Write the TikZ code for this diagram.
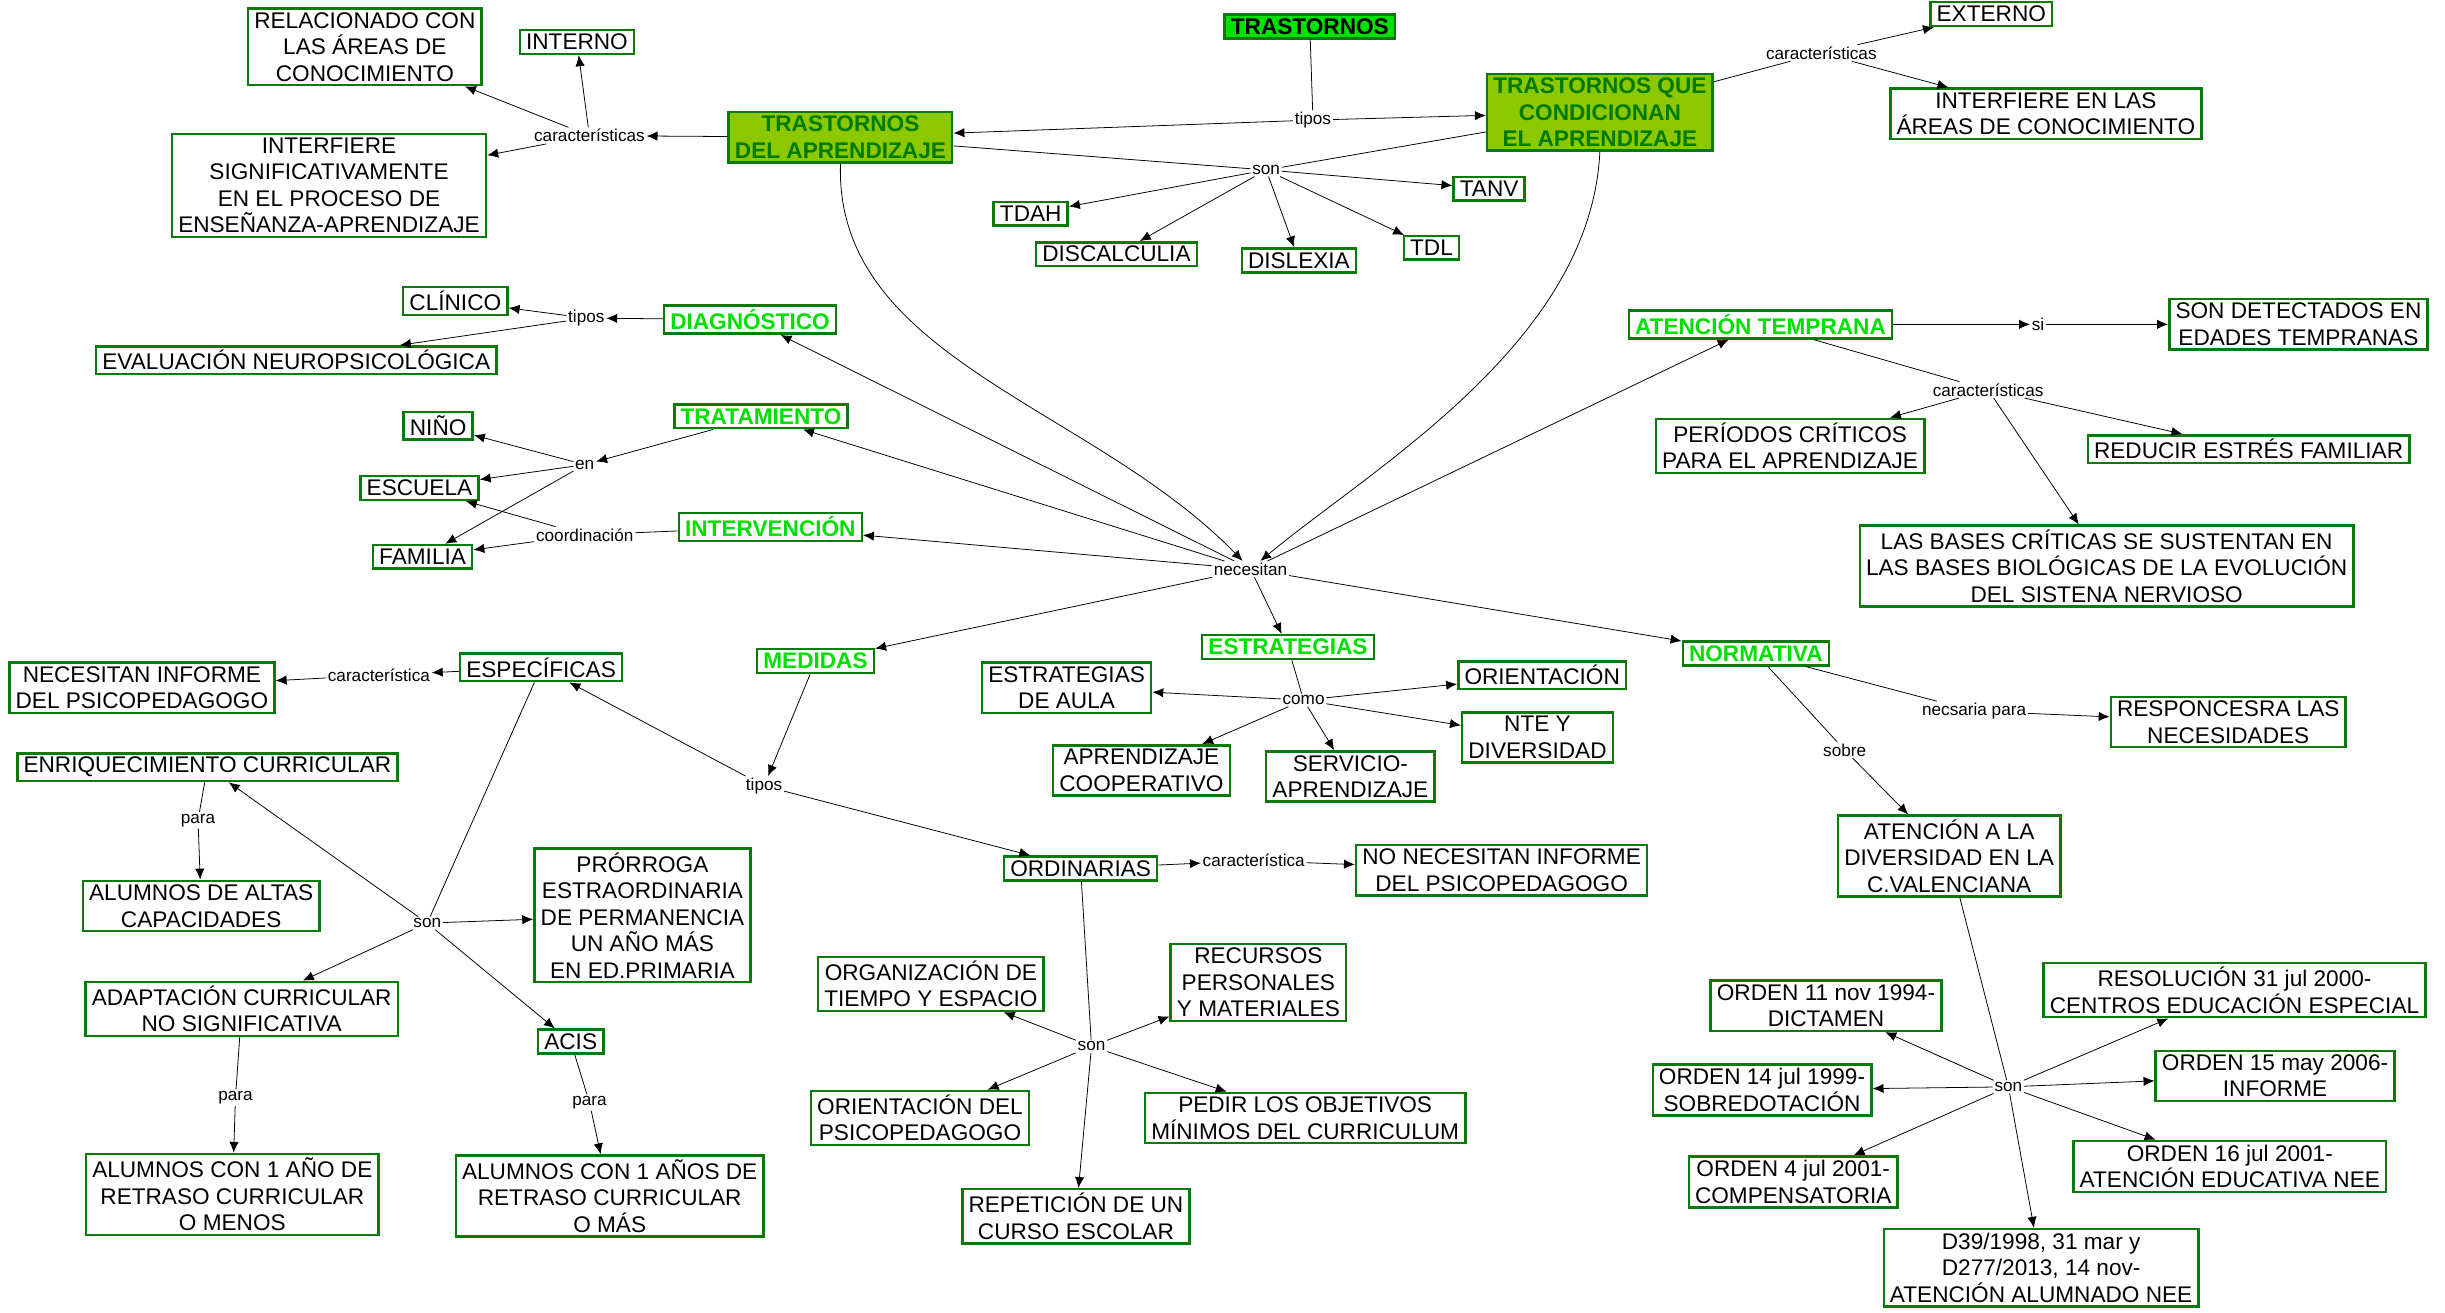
\documentclass[tikz,border=0pt]{standalone}
\usepackage{fontspec}
\setmainfont{Liberation Sans}
\usetikzlibrary{arrows.meta}
\definecolor{bd}{HTML}{0A7A0A}
\definecolor{lg}{HTML}{8CC800}
\definecolor{dg}{HTML}{007A00}
\definecolor{bg}{HTML}{00E000}
\begin{document}
\begin{tikzpicture}[x=1pt,y=-1pt,
 b/.style={draw=bd,line width=1.6pt,fill=white,align=center,font=\fontsize{14.5}{17}\selectfont,inner xsep=4pt,inner ysep=2.5pt},
 g/.style={b,font=\fontsize{14.5}{17}\selectfont\bfseries,text=bg},
 t/.style={b,fill=lg,text=dg,font=\fontsize{14.5}{17}\selectfont\bfseries},
 l/.style={font=\fontsize{11}{12}\selectfont,inner sep=1pt,fill=white},
 a/.style={-{Latex[length=7pt,width=6pt]},line width=0.5pt},
 n/.style={line width=0.5pt}]
\useasboundingbox (0,0) rectangle (1568,842);
% top
\node[b,fill=bg,font=\fontsize{14.5}{17}\selectfont\bfseries] (tr) at (840,17) {TRASTORNOS};
\node[t] (tda) at (539,88) {TRASTORNOS\\DEL APRENDIZAJE};
\node[t] (tqc) at (1026,72) {TRASTORNOS QUE\\CONDICIONAN\\EL APRENDIZAJE};
\node[b] (ext) at (1277,9) {EXTERNO};
\node[b] (iea) at (1312,73) {INTERFIERE EN LAS\\ÁREAS DE CONOCIMIENTO};
\node[l] (c1) at (1168,34) {características};
\node[l] (t1) at (842,77) {tipos};
\node[l] (s1) at (812,109) {son};
\node[b] (tdah) at (661,137) {TDAH};
\node[b] (disc) at (716,163) {DISCALCULIA};
\node[b] (disl) at (833,167) {DISLEXIA};
\node[b] (tdl) at (918,159) {TDL};
\node[b] (tanv) at (955,121) {TANV};
\node[b] (rel) at (234,30) {RELACIONADO CON\\LAS ÁREAS DE\\CONOCIMIENTO};
\node[b] (int) at (370,27) {INTERNO};
\node[l] (c2) at (378,87) {características};
\node[b] (isig) at (211,119) {INTERFIERE\\SIGNIFICATIVAMENTE\\EN EL PROCESO DE\\ENSEÑANZA-APRENDIZAJE};
% left middle
\node[g] (diag) at (481,205) {DIAGNÓSTICO};
\node[l] (t2) at (376,204) {tipos};
\node[b] (cli) at (292,193) {CLÍNICO};
\node[b] (eval) at (190,231) {EVALUACIÓN NEUROPSICOLÓGICA};
\node[g] (trat) at (488,267) {TRATAMIENTO};
\node[l] (en) at (375,298) {en};
\node[b] (nino) at (281,273) {NIÑO};
\node[b] (esc) at (269,313) {ESCUELA};
\node[b] (fam) at (271,357) {FAMILIA};
\node[l] (coor) at (375,343) {coordinación};
\node[g] (interv) at (494,338) {INTERVENCIÓN};
\node[l] (nec) at (802,365) {necesitan};
% right
\node[g] (at) at (1129,208) {ATENCIÓN TEMPRANA};
\node[l] (si) at (1307,208) {si};
\node[b] (sdet) at (1474,208) {SON DETECTADOS EN\\EDADES TEMPRANAS};
\node[l] (c3) at (1275,250) {características};
\node[b] (per) at (1148,286) {PERÍODOS CRÍTICOS\\PARA EL APRENDIZAJE};
\node[b] (red) at (1442,288) {REDUCIR ESTRÉS FAMILIAR};
\node[b] (bases) at (1351,363) {LAS BASES CRÍTICAS SE SUSTENTAN EN\\LAS BASES BIOLÓGICAS DE LA EVOLUCIÓN\\DEL SISTENA NERVIOSO};
% medidas
\node[g] (med) at (523,424) {MEDIDAS};
\node[g] (estr) at (826,415) {ESTRATEGIAS};
\node[g] (norm) at (1126,419) {NORMATIVA};
\node[b] (espe) at (347,428) {ESPECÍFICAS};
\node[l] (c4) at (243,433) {característica};
\node[b] (neci) at (91,441) {NECESITAN INFORME\\DEL PSICOPEDAGOGO};
\node[b] (enr) at (133,492) {ENRIQUECIMIENTO CURRICULAR};
\node[l] (p1) at (127,526) {para};
\node[b] (aac) at (129,581) {ALUMNOS DE ALTAS\\CAPACIDADES};
\node[l] (s2) at (274,592) {son};
\node[b] (pro) at (412,587) {PRÓRROGA\\ESTRAORDINARIA\\DE PERMANENCIA\\UN AÑO MÁS\\EN ED.PRIMARIA};
\node[b] (adap) at (155,647) {ADAPTACIÓN CURRICULAR\\NO SIGNIFICATIVA};
\node[b] (acis) at (366,668) {ACIS};
\node[l] (p2) at (151,704) {para};
\node[l] (p3) at (378,707) {para};
\node[b] (amen) at (149,766) {ALUMNOS CON 1 AÑO DE\\RETRASO CURRICULAR\\O MENOS};
\node[b] (amas) at (391,767) {ALUMNOS CON 1 AÑOS DE\\RETRASO CURRICULAR\\O MÁS};
\node[l] (t3) at (490,504) {tipos};
\node[b] (eaula) at (684,441) {ESTRATEGIAS\\DE AULA};
\node[l] (como) at (836,449) {como};
\node[b] (ori) at (989,433) {ORIENTACIÓN};
\node[b] (nte) at (986,473) {NTE Y\\DIVERSIDAD};
\node[b] (acoop) at (732,494) {APRENDIZAJE\\COOPERATIVO};
\node[b] (serv) at (866,498) {SERVICIO-\\APRENDIZAJE};
\node[b] (ord) at (693,557) {ORDINARIAS};
\node[l] (c5) at (804,552) {característica};
\node[b] (nonec) at (963,558) {NO NECESITAN INFORME\\DEL PSICOPEDAGOGO};
\node[b] (org) at (597,631) {ORGANIZACIÓN DE\\TIEMPO Y ESPACIO};
\node[b] (rec) at (807,630) {RECURSOS\\PERSONALES\\Y MATERIALES};
\node[l] (s3) at (700,671) {son};
\node[b] (orip) at (590,717) {ORIENTACIÓN DEL\\PSICOPEDAGOGO};
\node[b] (pedir) at (837,717) {PEDIR LOS OBJETIVOS\\MÍNIMOS DEL CURRICULUM};
\node[b] (rep) at (690,780) {REPETICIÓN DE UN\\CURSO ESCOLAR};
\node[l] (nps) at (1266,456) {necsaria para};
\node[b] (resp) at (1429,463) {RESPONCESRA LAS\\NECESIDADES};
\node[l] (sob) at (1183,481) {sobre};
\node[b] (adcv) at (1250,549) {ATENCIÓN A LA\\DIVERSIDAD EN LA\\C.VALENCIANA};
\node[l] (s4) at (1288,697) {son};
\node[b] (o1) at (1171,645) {ORDEN 11 nov 1994-\\DICTAMEN};
\node[b] (o2) at (1433,635) {RESOLUCIÓN 31 jul 2000-\\CENTROS EDUCACIÓN ESPECIAL};
\node[b] (o3) at (1130,699) {ORDEN 14 jul 1999-\\SOBREDOTACIÓN};
\node[b] (o4) at (1459,690) {ORDEN 15 may 2006-\\INFORME};
\node[b] (o5) at (1150,758) {ORDEN 4 jul 2001-\\COMPENSATORIA};
\node[b] (o6) at (1430,748) {ORDEN 16 jul 2001-\\ATENCIÓN EDUCATIVA NEE};
\node[b] (o7) at (1309,813) {D39/1998, 31 mar y\\D277/2013, 14 nov-\\ATENCIÓN ALUMNADO NEE};
% edges
\draw[n] (tr) -- (t1); \draw[a] (t1) -- (tqc); \draw[a] (t1) -- (tda);
\draw[n] (tqc) -- (c1); \draw[a] (c1) -- (ext); \draw[a] (c1) -- (iea);
\draw[n] (tda) -- (s1); \draw[n] (tqc) -- (s1);
\foreach \x in {tdah,disc,disl,tdl,tanv} \draw[a] (s1) -- (\x);
\draw[a] (tda) -- (c2);
\foreach \x in {rel,int,isig} \draw[a] (c2) -- (\x);
\draw[a] (tda.south) .. controls (535,230) and (700,260) .. (nec);
\draw[a] (tqc.south) .. controls (1020,220) and (880,300) .. (nec);
\foreach \x in {diag,trat,interv,at,med,estr,norm} \draw[a] (nec) -- (\x);
\draw[a] (diag) -- (t2); \draw[a] (t2) -- (cli); \draw[a] (t2) -- (eval);
\draw[a] (trat) -- (en); \foreach \x in {nino,esc,fam} \draw[a] (en) -- (\x);
\draw[n] (interv) -- (coor); \draw[a] (coor) -- (fam); \draw[a] (coor) -- (esc);
\draw[a] (at) -- (si); \draw[a] (si) -- (sdet);
\draw[n] (at) -- (c3); \foreach \x in {per,red,bases} \draw[a] (c3) -- (\x);
\draw[a] (med) -- (t3); \draw[a] (t3) -- (espe); \draw[a] (t3) -- (ord);
\draw[a] (espe) -- (c4); \draw[a] (c4) -- (neci);
\draw[n] (espe) -- (s2); \foreach \x in {enr,pro,adap,acis} \draw[a] (s2) -- (\x);
\draw[n] (enr) -- (p1); \draw[a] (p1) -- (aac);
\draw[n] (adap) -- (p2); \draw[a] (p2) -- (amen);
\draw[n] (acis) -- (p3); \draw[a] (p3) -- (amas);
\draw[n] (estr) -- (como); \foreach \x in {eaula,ori,nte,acoop,serv} \draw[a] (como) -- (\x);
\draw[a] (ord) -- (c5); \draw[a] (c5) -- (nonec);
\draw[n] (ord) -- (s3); \foreach \x in {org,rec,orip,pedir,rep} \draw[a] (s3) -- (\x);
\draw[n] (norm) -- (nps); \draw[a] (nps) -- (resp);
\draw[n] (norm) -- (sob); \draw[a] (sob) -- (adcv);
\draw[n] (adcv) -- (s4); \foreach \x in {o1,o2,o3,o4,o5,o6,o7} \draw[a] (s4) -- (\x);
\end{tikzpicture}
\end{document}
